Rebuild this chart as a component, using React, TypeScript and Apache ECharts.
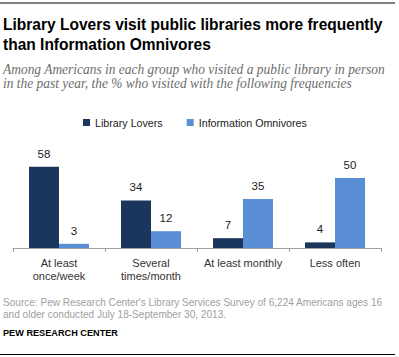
import React, { useEffect, useRef } from "react";
import * as echarts from "echarts";

const categories = ["At least\nonce/week", "Several\ntimes/month", "At least monthly", "Less often"];
const seriesNames = ["Library Lovers", "Information Omnivores"];
const libraryLovers = [58, 34, 7, 4];
const infoOmnivores = [3, 12, 35, 50];
const titleLines = ["Library Lovers visit public libraries more frequently", "than Information Omnivores"];
const subtitleLines = [
  "Among Americans in each group who visited a public library in person",
  "in the past year, the % who visited with the following frequencies",
];
const sourceLines = [
  "Source: Pew Research Center's Library Services Survey of 6,224 Americans ages 16",
  "and older conducted July 18-September 30, 2013.",
];
const footer = "PEW RESEARCH CENTER";

const DARK = "#1a365d";
const LIGHT = "#5a8fd6";

function fitScale(line: string, font: string, target: number): number {
  const ctx = document.createElement("canvas").getContext("2d");
  if (!ctx) return 1;
  ctx.font = font;
  const w = ctx.measureText(line).width;
  return w > 0 ? target / w : 1;
}

export default function App() {
  const ref = useRef<HTMLDivElement>(null);
  useEffect(() => {
    document.body.style.margin = "0";
    const chart = echarts.init(ref.current!, null, { renderer: "svg" });
    const sans = "'Liberation Sans', Arial, sans-serif";
    const titleFont = `bold 17px ${sans}`;
    const subFont = `italic 14px 'Liberation Serif', Georgia, serif`;
    const srcFont = `11px ${sans}`;
    const footFont = `bold 9.5px ${sans}`;
    const titleScale = fitScale(titleLines[0], titleFont, 380);
    const subScale = fitScale(subtitleLines[0], subFont, 382);
    const srcScale = fitScale(sourceLines[0], srcFont, 380);
    const footScale = fitScale(footer, footFont, 115);
    const labelStyle = {
      show: true,
      position: "top" as const,
      distance: 7,
      fontSize: 11.5,
      color: "#222",
      fontFamily: sans,
    };
    chart.setOption({
      animation: false,
      backgroundColor: "#fff",
      legend: {
        left: 83,
        top: 117,
        padding: 0,
        itemWidth: 7,
        itemHeight: 7,
        itemGap: 24,
        icon: "rect",
        textStyle: { fontSize: 10.7, color: "#222", fontFamily: sans },
        data: seriesNames,
      },
      grid: { left: 13, right: 18, top: 164, bottom: 109, containLabel: false },
      xAxis: {
        type: "category",
        data: categories,
        axisLine: { lineStyle: { color: "#a0a0a0", width: 1 } },
        axisTick: { show: true, length: 4, lineStyle: { color: "#a0a0a0" } },
        axisLabel: { fontSize: 11, color: "#333", fontFamily: sans, lineHeight: 13.5, margin: 8, interval: 0 },
      },
      yAxis: { type: "value", min: 0, max: 60, show: false, splitLine: { show: false } },
      series: [
        {
          name: seriesNames[0],
          type: "bar",
          data: libraryLovers,
          barWidth: 30,
          barGap: "0%",
          itemStyle: { color: DARK },
          label: labelStyle,
        },
        {
          name: seriesNames[1],
          type: "bar",
          data: infoOmnivores,
          barWidth: 30,
          barGap: "0%",
          itemStyle: { color: LIGHT },
          label: labelStyle,
        },
      ],
      graphic: [
        { type: "line", shape: { x1: 0, y1: 3, x2: 395, y2: 3 }, style: { stroke: "#000", lineWidth: 1 } },
        {
          type: "text",
          x: 3,
          y: 14,
          scaleX: titleScale,
          style: {
            text: titleLines.join("\n"),
            font: titleFont,
            lineHeight: 19.5,
            fill: "#000",
            verticalAlign: "top",
          },
        },
        {
          type: "text",
          x: 3,
          y: 62,
          scaleX: subScale,
          style: {
            text: subtitleLines.join("\n"),
            font: subFont,
            lineHeight: 14,
            fill: "#6d6d6d",
            verticalAlign: "top",
          },
        },
        {
          type: "text",
          x: 3,
          y: 296,
          scaleX: srcScale,
          style: {
            text: sourceLines.join("\n"),
            font: srcFont,
            lineHeight: 11.6,
            fill: "#a0a0a0",
            verticalAlign: "top",
          },
        },
        {
          type: "text",
          x: 3,
          y: 328,
          scaleX: footScale,
          style: { text: footer, font: footFont, fill: "#000", verticalAlign: "top" },
        },
        { type: "line", shape: { x1: 0, y1: 354.5, x2: 395, y2: 354.5 }, style: { stroke: "#000", lineWidth: 1 } },
      ],
    });
    return () => chart.dispose();
  }, []);
  return <div ref={ref} style={{ width: 399, height: 357 }} />;
}
